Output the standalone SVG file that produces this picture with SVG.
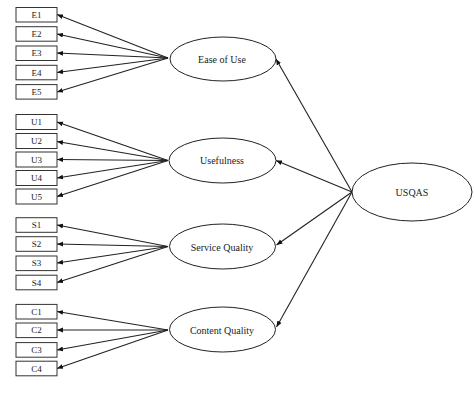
<svg xmlns="http://www.w3.org/2000/svg" width="474" height="402" viewBox="0 0 474 402">
<style>
.box{fill:#fff;stroke:#333;stroke-width:1}
.ell{fill:#fff;stroke:#222;stroke-width:1}
.t{font-family:"Liberation Serif","Times New Roman",serif;font-size:9px;fill:#222;text-anchor:middle;dominant-baseline:central}
.tl{font-family:"Liberation Serif","Times New Roman",serif;font-size:10px;fill:#222;text-anchor:middle;dominant-baseline:central}
.c{stroke:#222;stroke-width:1.1;fill:none;marker-end:url(#ah)}
</style>
<defs>
<marker id="ah" markerUnits="userSpaceOnUse" markerWidth="7" markerHeight="6" refX="6" refY="3" orient="auto">
<path d="M0,0.6 L6,3 L0,5.4 Z" fill="#111"/>
</marker>
</defs>
<rect width="474" height="402" fill="#fff"/>
<g id="connectors">
<line class="c" x1="168" y1="58" x2="57" y2="14.5"/>
<line class="c" x1="168" y1="58" x2="57" y2="34"/>
<line class="c" x1="168" y1="58" x2="57" y2="53"/>
<line class="c" x1="168" y1="58" x2="57" y2="72.5"/>
<line class="c" x1="168" y1="58" x2="57" y2="92"/>
<line class="c" x1="168" y1="160.5" x2="57" y2="122"/>
<line class="c" x1="168" y1="160.5" x2="57" y2="141.5"/>
<line class="c" x1="168" y1="160.5" x2="57" y2="159.5"/>
<line class="c" x1="168" y1="160.5" x2="57" y2="178"/>
<line class="c" x1="168" y1="160.5" x2="57" y2="196.5"/>
<line class="c" x1="168" y1="246.5" x2="57" y2="225"/>
<line class="c" x1="168" y1="246.5" x2="57" y2="244"/>
<line class="c" x1="168" y1="246.5" x2="57" y2="263"/>
<line class="c" x1="168" y1="246.5" x2="57" y2="282.5"/>
<line class="c" x1="168" y1="330" x2="57" y2="311.5"/>
<line class="c" x1="168" y1="330" x2="57" y2="330"/>
<line class="c" x1="168" y1="330" x2="57" y2="350"/>
<line class="c" x1="168" y1="330" x2="57" y2="368.5"/>
<line class="c" x1="352" y1="192" x2="276" y2="59"/>
<line class="c" x1="352" y1="192" x2="276" y2="160.5"/>
<line class="c" x1="352" y1="192" x2="276.5" y2="245"/>
<line class="c" x1="352" y1="192" x2="276.5" y2="327"/>
</g>
<g id="E1"><rect class="box" x="16" y="7.5" width="41" height="14.5"/><text class="t" x="36.5" y="14.7">E1</text></g>
<g id="E2"><rect class="box" x="16" y="26.7" width="41" height="14.5"/><text class="t" x="36.5" y="34">E2</text></g>
<g id="E3"><rect class="box" x="16" y="46" width="41" height="14.5"/><text class="t" x="36.5" y="53.2">E3</text></g>
<g id="E4"><rect class="box" x="16" y="65.3" width="41" height="14.5"/><text class="t" x="36.5" y="72.5">E4</text></g>
<g id="E5"><rect class="box" x="16" y="84.6" width="41" height="14.5"/><text class="t" x="36.5" y="91.9">E5</text></g>
<g id="U1"><rect class="box" x="16" y="114.5" width="41" height="15"/><text class="t" x="36.5" y="122">U1</text></g>
<g id="U2"><rect class="box" x="16" y="133.5" width="41" height="15"/><text class="t" x="36.5" y="141">U2</text></g>
<g id="U3"><rect class="box" x="16" y="152" width="41" height="15"/><text class="t" x="36.5" y="159.5">U3</text></g>
<g id="U4"><rect class="box" x="16" y="170.5" width="41" height="15"/><text class="t" x="36.5" y="178">U4</text></g>
<g id="U5"><rect class="box" x="16" y="189" width="41" height="15"/><text class="t" x="36.5" y="196.5">U5</text></g>
<g id="S1"><rect class="box" x="16" y="217.7" width="41" height="14.6"/><text class="t" x="36.5" y="225">S1</text></g>
<g id="S2"><rect class="box" x="16" y="236.7" width="41" height="14.6"/><text class="t" x="36.5" y="244">S2</text></g>
<g id="S3"><rect class="box" x="16" y="256" width="41" height="14.6"/><text class="t" x="36.5" y="263.3">S3</text></g>
<g id="S4"><rect class="box" x="16" y="275.2" width="41" height="14.6"/><text class="t" x="36.5" y="282.5">S4</text></g>
<g id="C1"><rect class="box" x="16" y="304.4" width="41" height="14.6"/><text class="t" x="36.5" y="311.7">C1</text></g>
<g id="C2"><rect class="box" x="16" y="323" width="41" height="14.6"/><text class="t" x="36.5" y="330.3">C2</text></g>
<g id="C3"><rect class="box" x="16" y="342.6" width="41" height="14.6"/><text class="t" x="36.5" y="349.9">C3</text></g>
<g id="C4"><rect class="box" x="16" y="361.2" width="41" height="14.6"/><text class="t" x="36.5" y="368.5">C4</text></g>
<g id="EaseOfUse"><ellipse class="ell" cx="223" cy="59" rx="53" ry="22"/><text class="tl" x="222" y="59">Ease of Use</text></g>
<g id="Usefulness"><ellipse class="ell" cx="222.5" cy="160.5" rx="53.5" ry="22.5"/><text class="tl" x="222" y="160.5">Usefulness</text></g>
<g id="ServiceQuality"><ellipse class="ell" cx="222.5" cy="246.5" rx="53" ry="22.5"/><text class="tl" x="222" y="247">Service Quality</text></g>
<g id="ContentQuality"><ellipse class="ell" cx="222.5" cy="329.5" rx="53" ry="22.5"/><text class="tl" x="222" y="330">Content Quality</text></g>
<g id="USQAS"><ellipse class="ell" cx="412" cy="192" rx="60" ry="29"/><text class="tl" x="412" y="192.5">USQAS</text></g>
</svg>
